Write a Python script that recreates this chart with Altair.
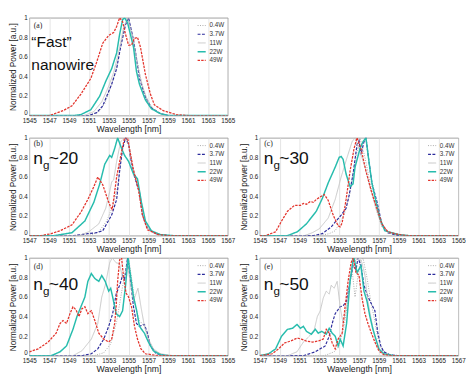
import altair as alt
import pandas as pd

SERIES = ["0.4W", "3.7W", "11W", "22W", "49W"]
COLORS = ["#a9a9a9", "#2b2b9c", "#c2c2c2", "#27bcad", "#e3342c"]
DASHES = [[1, 1.5], [3, 1.5], [1, 0], [1, 0], [2.5, 1.2]]
WIDTHS = [1.0, 1.2, 0.9, 1.5, 1.3]

# ---- panel (a) "Fast" nanowire, 1545-1565 nm
A_04 = [(1545, 0), (1551, 0.0), (1552, 0.04), (1552.6, 0.12), (1553.3, 0.32), (1553.8, 0.5), (1554.2, 0.72),
        (1554.6, 0.92), (1555, 1.0), (1555.4, 0.82), (1555.8, 0.6), (1556.2, 0.38), (1556.7, 0.2), (1557.3, 0.08),
        (1558.2, 0.02), (1559, 0), (1565, 0)]
A_37 = [(1545, 0), (1551, 0.0), (1551.8, 0.03), (1552.4, 0.1), (1553.3, 0.32), (1553.8, 0.48), (1554.2, 0.7),
        (1554.7, 0.93), (1555, 1.0), (1555.5, 0.77), (1555.8, 0.58), (1556.1, 0.38), (1556.7, 0.19), (1557.3, 0.08),
        (1558.2, 0.02), (1559, 0), (1565, 0)]
A_11 = [(1545, 0), (1550.5, 0), (1551.5, 0.04), (1552.3, 0.14), (1553, 0.3), (1553.5, 0.44), (1554, 0.65),
        (1554.5, 0.9), (1554.9, 1.0), (1555.4, 0.8), (1555.9, 0.52), (1556.4, 0.3), (1557, 0.13), (1557.8, 0.04),
        (1558.8, 0), (1565, 0)]
A_22 = [(1545, 0), (1549.5, 0), (1550.2, 0.01), (1551.2, 0.06), (1552.1, 0.2), (1552.7, 0.35), (1553.3, 0.48),
        (1553.8, 0.64), (1554.1, 0.83), (1554.4, 0.98), (1554.6, 1.0), (1554.9, 0.95), (1555.5, 0.7), (1555.8, 0.45),
        (1556.1, 0.32), (1556.7, 0.16), (1557.3, 0.07), (1558.2, 0.02), (1559, 0), (1565, 0)]
A_49 = [(1545, 0), (1547, 0.0), (1548.4, 0.05), (1549.3, 0.1), (1550.2, 0.22), (1551.2, 0.38), (1551.8, 0.55),
        (1552.4, 0.74), (1553, 0.82), (1553.5, 0.85), (1553.8, 0.91), (1554.1, 1.0), (1554.4, 0.96), (1554.7, 0.83),
        (1555, 0.72), (1555.3, 0.72), (1555.6, 0.79), (1555.9, 0.8), (1556.2, 0.7), (1556.7, 0.42), (1557.2, 0.22),
        (1557.6, 0.11), (1558.5, 0.05), (1559.8, 0.01), (1561, 0), (1565, 0)]

# ---- panel (b) ng~20, 1547-1567 nm
B_04 = [(1547, 0), (1553, 0), (1554, 0.04), (1554.8, 0.15), (1555.4, 0.3), (1555.9, 0.5), (1556.2, 0.75),
        (1556.5, 0.95), (1556.8, 1.0), (1557.1, 0.9), (1557.4, 0.72), (1557.8, 0.55), (1558.2, 0.4), (1558.5, 0.2),
        (1559, 0.07), (1559.8, 0.02), (1561, 0), (1567, 0)]
B_37 = [(1547, 0), (1551.5, 0), (1552.9, 0.02), (1553.8, 0.03), (1554.4, 0.05), (1555.3, 0.21), (1555.8, 0.37),
        (1556.1, 0.66), (1556.4, 0.89), (1556.7, 1.0), (1557, 0.93), (1557.3, 0.73), (1557.6, 0.6), (1558.1, 0.44),
        (1558.4, 0.21), (1558.9, 0.08), (1559.7, 0.02), (1561, 0), (1567, 0)]
B_11 = [(1547, 0), (1552, 0), (1553, 0.04), (1554, 0.12), (1554.7, 0.28), (1555.1, 0.45), (1555.3, 0.55),
        (1555.5, 0.57), (1555.8, 0.76), (1556.2, 0.96), (1556.6, 1.0), (1557, 0.93), (1557.3, 0.74), (1557.7, 0.58),
        (1558.1, 0.45), (1558.4, 0.22), (1558.9, 0.08), (1559.7, 0.02), (1561, 0), (1567, 0)]
B_22 = [(1547, 0), (1549.5, 0), (1551.3, 0.03), (1552.6, 0.15), (1553.5, 0.34), (1554.1, 0.53), (1554.6, 0.73),
        (1555.1, 0.82), (1555.3, 0.8), (1555.6, 0.89), (1555.9, 1.0), (1556.3, 0.89), (1556.6, 0.82), (1557, 0.76),
        (1557.5, 0.63), (1557.9, 0.58), (1558.3, 0.34), (1558.7, 0.15), (1559.3, 0.05), (1560.2, 0.01),
        (1561.5, 0), (1567, 0)]
B_49 = [(1547, 0), (1548.2, 0.0), (1549.2, 0.02), (1550.1, 0.05), (1551.3, 0.11), (1552.2, 0.24), (1552.9, 0.37),
        (1553.5, 0.5), (1553.9, 0.6), (1554.4, 0.52), (1554.9, 0.37), (1555.2, 0.29), (1555.35, 0.27),
        (1555.5, 0.37), (1555.8, 0.6), (1556.3, 0.86), (1556.6, 1.0), (1556.9, 1.0), (1557.2, 0.83), (1557.5, 0.67),
        (1558, 0.47), (1558.4, 0.21), (1558.9, 0.06), (1560, 0.01), (1561, 0), (1567, 0)]

# ---- panel (c) ng~30, 1545-1565 nm
C_04 = [(1545, 0), (1551, 0), (1552, 0.02), (1552.6, 0.05), (1553.5, 0.21), (1554.1, 0.44), (1554.6, 0.76),
        (1555.1, 1.0), (1555.6, 0.8), (1556, 0.6), (1556.7, 0.28), (1557.3, 0.09), (1557.9, 0.03), (1560, 0),
        (1565, 0)]
C_37 = [(1545, 0), (1550.4, 0), (1551.3, 0.02), (1552.2, 0.09), (1553.2, 0.21), (1553.7, 0.28), (1554, 0.41),
        (1554.4, 0.63), (1554.8, 0.93), (1555, 0.97), (1555.2, 0.83), (1555.5, 0.96), (1555.7, 1.0), (1556, 0.76),
        (1556.3, 0.54), (1556.8, 0.35), (1557.3, 0.12), (1557.9, 0.03), (1559, 0), (1565, 0)]
C_11 = [(1545, 0), (1549.5, 0), (1550.3, 0.03), (1551, 0.07), (1551.9, 0.18), (1552.6, 0.37), (1553.2, 0.6),
        (1553.8, 0.8), (1554.3, 0.96), (1554.6, 1.0), (1555.1, 0.86), (1555.6, 0.7), (1556, 0.54), (1556.7, 0.28),
        (1557.3, 0.1), (1558, 0.03), (1559.5, 0), (1565, 0)]
C_22 = [(1545, 0), (1547.8, 0), (1548.8, 0.04), (1549.7, 0.12), (1550.7, 0.25), (1551.3, 0.38), (1551.9, 0.54),
        (1552.6, 0.7), (1553, 0.8), (1553.2, 0.81), (1553.4, 0.78), (1553.7, 0.63), (1554.1, 0.5), (1554.4, 0.53),
        (1554.6, 0.7), (1555.1, 0.89), (1555.4, 0.96), (1555.7, 1.0), (1556, 0.76), (1556.3, 0.54), (1556.7, 0.35),
        (1557.1, 0.18), (1557.6, 0.05), (1559, 0.01), (1560, 0), (1565, 0)]
C_49 = [(1545, 0), (1545.6, 0.0), (1546.6, 0.04), (1547.2, 0.15), (1547.8, 0.25), (1548.5, 0.31), (1549.1, 0.31),
        (1549.4, 0.33), (1549.7, 0.32), (1550.1, 0.35), (1550.4, 0.34), (1550.7, 0.37), (1551, 0.39), (1551.5, 0.42),
        (1551.9, 0.36), (1552.4, 0.21), (1552.9, 0.1), (1553.1, 0.09), (1553.3, 0.13), (1553.7, 0.37),
        (1554.1, 0.66), (1554.5, 0.89), (1554.8, 1.0), (1555.2, 0.89), (1555.7, 0.66), (1556.2, 0.47),
        (1556.5, 0.37), (1556.8, 0.28), (1557.3, 0.12), (1557.9, 0.04), (1559, 0.01), (1560, 0), (1565, 0)]

# ---- panel (d) ng~40, 1545-1565 nm
D_04 = [(1545, 0), (1551.5, 0), (1552.5, 0.03), (1553.2, 0.12), (1553.8, 0.35), (1554.3, 0.65), (1554.7, 0.88),
        (1555, 1.0), (1555.3, 0.8), (1555.7, 0.5), (1556.1, 0.36), (1556.6, 0.3), (1557.1, 0.15), (1557.6, 0.05),
        (1558.5, 0.01), (1559.5, 0), (1565, 0)]
D_37 = [(1545, 0), (1550.3, 0), (1551.25, 0.02), (1551.9, 0.07), (1552.5, 0.17), (1553, 0.3), (1553.4, 0.43),
        (1553.75, 0.63), (1554.1, 0.72), (1554.4, 0.82), (1554.6, 0.78), (1554.9, 1.0), (1555.2, 0.76),
        (1555.5, 0.5), (1555.8, 0.33), (1556.1, 0.3), (1556.6, 0.32), (1556.9, 0.23), (1557.2, 0.1),
        (1557.8, 0.02), (1559, 0), (1565, 0)]
D_11 = [(1545, 0), (1549.4, 0), (1550.3, 0.05), (1551.25, 0.17), (1551.9, 0.33), (1552.3, 0.6), (1552.65, 0.72),
        (1553.1, 0.95), (1553.35, 1.0), (1553.75, 0.95), (1554.1, 0.94), (1554.4, 0.79), (1554.7, 0.85),
        (1554.9, 0.95), (1555.2, 0.72), (1555.5, 0.56), (1555.8, 0.65), (1555.95, 0.69), (1556.25, 0.5),
        (1556.6, 0.3), (1557, 0.17), (1557.5, 0.07), (1558.2, 0.02), (1559.5, 0), (1565, 0)]
D_22 = [(1545, 0), (1547.2, 0), (1548.1, 0.04), (1548.75, 0.1), (1549.4, 0.27), (1549.8, 0.4), (1550.2, 0.5),
        (1550.6, 0.6), (1550.9, 0.76), (1551.25, 0.84), (1551.6, 0.79), (1552, 0.76), (1552.3, 0.82),
        (1552.65, 0.76), (1553, 0.66), (1553.2, 0.69), (1553.4, 0.6), (1553.75, 0.43), (1554.1, 0.4),
        (1554.4, 0.46), (1554.7, 0.72), (1554.95, 1.0), (1555.2, 0.82), (1555.5, 0.6), (1555.8, 0.47),
        (1556.1, 0.3), (1556.6, 0.23), (1557, 0.14), (1557.5, 0.05), (1558.2, 0.01), (1559, 0), (1565, 0)]
D_49 = [(1545, 0.04), (1545.9, 0.07), (1546.9, 0.14), (1547.7, 0.23), (1548.1, 0.33), (1548.4, 0.36),
        (1548.75, 0.33), (1549.1, 0.43), (1549.4, 0.5), (1549.7, 0.47), (1550, 0.4), (1550.3, 0.48), (1550.6, 0.5),
        (1550.9, 0.43), (1551.25, 0.46), (1551.6, 0.36), (1552, 0.23), (1552.5, 0.17), (1553, 0.14),
        (1553.3, 0.17), (1553.6, 0.33), (1553.75, 0.5), (1553.9, 0.76), (1554.1, 0.98), (1554.3, 1.0),
        (1554.5, 0.8), (1554.75, 0.64), (1555, 0.6), (1555.3, 0.5), (1555.6, 0.3), (1555.9, 0.17), (1556.25, 0.07),
        (1556.7, 0.02), (1558, 0), (1565, 0)]

# ---- panel (e) ng~50, 1547-1567 nm
E_04 = [(1547, 0), (1553.5, 0), (1554.5, 0.04), (1555, 0.1), (1555.5, 0.3), (1555.8, 0.5), (1556.1, 0.8),
        (1556.3, 0.88), (1556.6, 0.6), (1556.8, 0.75), (1557.1, 0.95), (1557.4, 1.0), (1557.8, 0.8), (1558.2, 0.55),
        (1558.5, 0.4), (1558.9, 0.18), (1559.3, 0.06), (1560, 0.01), (1561, 0), (1567, 0)]
E_37 = [(1547, 0), (1551.4, 0), (1552.6, 0.04), (1553.6, 0.1), (1554, 0.2), (1554.3, 0.33), (1554.6, 0.43),
        (1555.1, 0.5), (1555.4, 0.51), (1555.75, 0.56), (1556.1, 0.76), (1556.4, 0.92), (1556.7, 0.88),
        (1556.9, 1.0), (1557.2, 0.92), (1557.5, 0.72), (1557.8, 0.63), (1558.1, 0.56), (1558.4, 0.5),
        (1558.6, 0.46), (1558.9, 0.23), (1559.2, 0.1), (1559.5, 0.04), (1560.1, 0.01), (1561, 0), (1567, 0)]
E_11 = [(1547, 0), (1549.8, 0), (1550.75, 0.04), (1551.4, 0.14), (1552, 0.2), (1552.5, 0.27), (1552.8, 0.4),
        (1553.1, 0.46), (1553.4, 0.59), (1553.7, 0.66), (1554, 0.63), (1554.2, 0.72), (1554.5, 0.69),
        (1554.8, 0.76), (1555.1, 0.5), (1555.4, 0.33), (1555.75, 0.5), (1556.1, 0.76), (1556.4, 0.95),
        (1556.7, 0.98), (1557, 1.0), (1557.3, 0.95), (1557.6, 0.82), (1557.9, 0.56), (1558.25, 0.36), (1558.6, 0.2),
        (1559, 0.07), (1559.5, 0.02), (1560.5, 0), (1567, 0)]
E_22 = [(1547, 0), (1547.9, 0.02), (1548.6, 0.07), (1549.2, 0.2), (1549.8, 0.27), (1550.3, 0.28), (1550.75, 0.32),
        (1551.1, 0.28), (1551.4, 0.3), (1551.7, 0.25), (1552.2, 0.22), (1552.6, 0.27), (1552.9, 0.23),
        (1553.25, 0.25), (1553.7, 0.22), (1554, 0.28), (1554.3, 0.23), (1554.6, 0.2), (1554.9, 0.1), (1555.1, 0.17),
        (1555.4, 0.1), (1555.75, 0.33), (1556.1, 0.76), (1556.4, 0.98), (1556.5, 1.0), (1556.8, 0.85),
        (1557.2, 0.92), (1557.5, 0.66), (1557.8, 0.56), (1558.1, 0.4), (1558.4, 0.27), (1558.7, 0.17), (1559, 0.07),
        (1559.5, 0.02), (1560.5, 0), (1567, 0)]
E_49 = [(1547, 0), (1548.25, 0.02), (1548.9, 0.07), (1549.5, 0.13), (1550.1, 0.15), (1550.75, 0.18),
        (1551.2, 0.17), (1551.7, 0.15), (1552.3, 0.14), (1552.9, 0.15), (1553.4, 0.17), (1553.7, 0.27),
        (1554, 0.23), (1554.3, 0.13), (1554.6, 0.07), (1554.9, 0.17), (1555.3, 0.23), (1555.6, 0.5), (1555.9, 0.76),
        (1556.2, 0.95), (1556.4, 1.0), (1556.7, 0.85), (1557, 0.82), (1557.3, 0.59), (1557.6, 0.43), (1557.9, 0.33),
        (1558.25, 0.23), (1558.6, 0.14), (1559, 0.05), (1559.5, 0.01), (1560.5, 0), (1567, 0)]

Y_TICKS = [0, 0.2, 0.4, 0.6, 0.8, 1]
W, H = 205, 101
SANS = "Liberation Sans"
SERIF = "Liberation Serif"


def to_df(curves):
    rows = []
    for name, pts in zip(SERIES, curves):
        for wl, p in pts:
            rows.append({"wl": wl, "p": p, "s": name})
    return pd.DataFrame(rows)


def panel(curves, domain, tag, tag_y, ytitle, texts):
    leg = alt.Legend(title=None, orient="top-right", symbolType="stroke", symbolSize=70,
                     symbolStrokeWidth=1.2, labelFontSize=6.5, rowPadding=-1.5, padding=1, offset=2,
                     labelOffset=3, labelColor="#333")
    xaxis = alt.Axis(values=list(range(domain[0], domain[1] + 1, 2)), format="d",
                     title="Wavelength [nm]", grid=True, labelOverlap=False)
    yaxis = alt.Axis(values=Y_TICKS, format="~g", title=ytitle, grid=False, labelOverlap=False,
                     labelOffset={"condition": {"test": "datum.value == 0", "value": -3}, "value": 0})
    xscale = alt.Scale(domain=domain, nice=False, zero=False)
    yscale = alt.Scale(domain=[0, 1], nice=False)
    xenc = alt.X("wl:Q", scale=xscale, axis=xaxis)
    yenc = alt.Y("p:Q", scale=yscale, axis=yaxis)
    lines = alt.Chart(to_df(curves)).mark_line(clip=True).encode(
        x=xenc, y=yenc,
        color=alt.Color("s:N", scale=alt.Scale(domain=SERIES, range=COLORS), legend=leg),
        strokeDash=alt.StrokeDash("s:N", scale=alt.Scale(domain=SERIES, range=DASHES), legend=leg),
        strokeWidth=alt.StrokeWidth("s:N", scale=alt.Scale(type="ordinal", domain=SERIES, range=WIDTHS),
                                    legend=None),
    )
    layers = [lines]
    tag_df = pd.DataFrame([{"wl": domain[0] + 0.45, "p": tag_y, "t": tag}])
    layers.append(alt.Chart(tag_df).mark_text(font=SERIF, fontSize=8, align="left", baseline="middle",
                                              color="#222").encode(x=xenc, y=yenc, text="t:N"))
    for t, wl, p, size, dx, dy in texts:
        tdf = pd.DataFrame([{"wl": wl, "p": p, "t": t}])
        layers.append(alt.Chart(tdf).mark_text(font=SANS, fontSize=size, align="left", baseline="alphabetic",
                                               dx=dx, dy=dy, color="#111").encode(x=xenc, y=yenc, text="t:N"))
    return alt.layer(*layers).properties(width=W, height=H)


def ng_text(value, wl, p):
    return [("n", wl, p, 18, 0, 0), ("g", wl, p, 12, 10, 5), ("~" + value, wl, p, 18, 16, 0)]


pa = panel([A_04, A_37, A_11, A_22, A_49], [1545, 1565], "(a)", 0.92, "Normalized Power [a.u.]",
           [("\u201cFast\u201d", 1545.2, 0.70, 16, 0, 0), ("nanowire", 1545.2, 0.47, 16, 0, 0)])
pb = panel([B_04, B_37, B_11, B_22, B_49], [1547, 1567], "(b)", 0.94, "Normalized Power [a.u.]",
           ng_text("20", 1547.4, 0.73))
pc = panel([C_04, C_37, C_11, C_22, C_49], [1545, 1565], "(c)", 0.94, "Normalized power [a.u.]",
           ng_text("30", 1545.4, 0.73))
pd_ = panel([D_04, D_37, D_11, D_22, D_49], [1545, 1565], "(d)", 0.91, "Normalized Power [a.u.]",
            ng_text("40", 1545.4, 0.67))
pe = panel([E_04, E_37, E_11, E_22, E_49], [1547, 1567], "(e)", 0.91, "Normalized Power [a.u.]",
           ng_text("50", 1547.4, 0.67))

res = dict(color="independent", strokeDash="independent", strokeWidth="independent")
row2 = alt.hconcat(pb, pc, spacing=3).resolve_scale(**res)
row3 = alt.hconcat(pd_, pe, spacing=3).resolve_scale(**res)

chart = alt.vconcat(pa, row2, row3, spacing=0).resolve_scale(**res).properties(padding=0).configure(
    font=SANS
).configure_axis(
    labelFontSize=6.5, titleFontSize=8.5, titleFontWeight="normal", labelColor="#222", titleColor="#222",
    ticks=False, domain=False, labelPadding=2, titlePadding=1, gridColor="#dcdcdc", gridWidth=0.8,
    labelOverlap=False, labelBound=False, labelFlush=False,
).configure_axisX(titleFontSize=9).configure_view(stroke="#888", strokeWidth=0.8)

chart.save("out.html", embed_options={"renderer": "svg", "actions": False})
